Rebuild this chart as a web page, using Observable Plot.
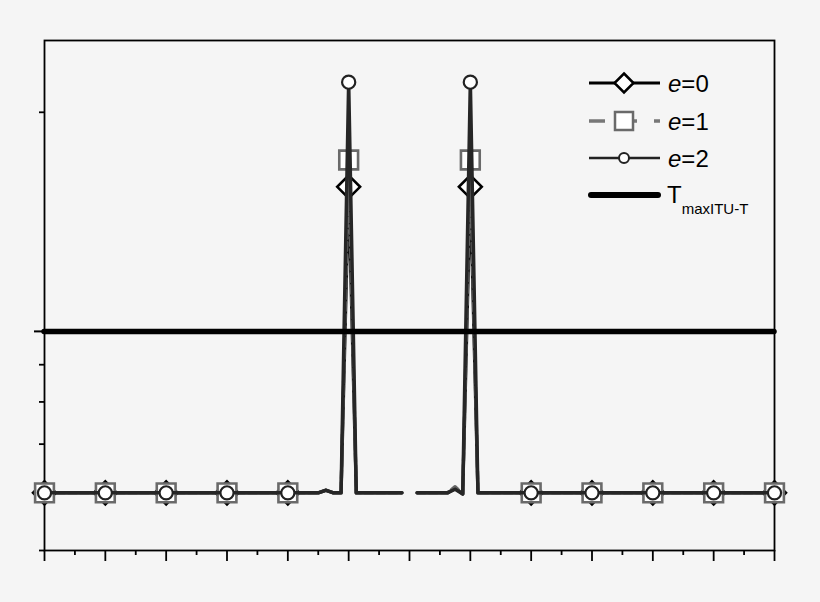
<!DOCTYPE html>
<html>
<head>
<meta charset="utf-8">
<script src="https://cdn.jsdelivr.net/npm/d3@7"></script>
<script src="https://cdn.jsdelivr.net/npm/@observablehq/plot@0.6"></script>
<style>
  html, body { margin: 0; padding: 0; background: #f5f5f5; }
  #wrap { position: relative; width: 820px; height: 602px; }
  #legend { position: absolute; left: 0; top: 0; pointer-events: none; }
  text { font-family: "Liberation Sans", Arial, sans-serif; }
</style>
</head>
<body>
<div id="wrap"></div>
<script>
// x positions (sample index) and series values (log y)
const xs = [0, 1, 2, 3, 4, 4.5, 4.625, 4.75, 4.875, 5, 5.125, 5.875, 6, 6.125, 6.625, 6.75, 6.875, 7, 7.125, 7.75, 8, 9, 10, 11, 12];
const e0 = [6, 6, 6, 6, 6, 6, 6.05, 6, 6, 15.8, 6, 6, null, 6, 6, 6.09, 5.98, 15.8, 6, 6, 6, 6, 6, 6, 6];
const e1 = [6, 6, 6, 6, 6, 6, 6.05, 6, 6, 17.2, 6, 6, null, 6, 6, 6.12, 5.98, 17.2, 6, 6, 6, 6, 6, 6, 6];
const e2 = [6, 6, 6, 6, 6, 6, 6.05, 6, 6, 22.0, 6, 6, null, 6, 6, 6.07, 5.98, 22.0, 6, 6, 6, 6, 6, 6, 6];
const threshold = [10];
const yMinorTicks = [5, 6, 7, 8, 9, 20];
const yMajorTicks = [10];
const xMajorTicks = [0, 1, 2, 3, 4, 5, 6, 7, 8, 9, 10, 11, 12];
const xMinorTicks = [0.5, 1.5, 2.5, 3.5, 4.5, 5.5, 6.5, 7.5, 8.5, 9.5, 10.5, 11.5];
const legendLabels = ["e=0", "e=1", "e=2", "TmaxITU-T"];

const rows = (vals) => xs.map((x, i) => ({x, y: vals[i]}));
const d0 = rows(e0), d1 = rows(e1), d2 = rows(e2);
const isMarker = d => Number.isInteger(d.x) && d.y != null;

const noText = () => "";

const chart = Plot.plot({
  width: 820,
  height: 602,
  marginLeft: 44,
  marginRight: 46,
  marginTop: 40,
  marginBottom: 52,
  style: {background: "#f5f5f5"},
  x: {domain: [0, 12]},
  y: {type: "log", domain: [5, 25.1]},
  marks: [
    Plot.frame({stroke: "#000", strokeWidth: 1.8}),
    Plot.axisX(xMajorTicks, {tickSize: 11, tickFormat: noText, label: null, strokeWidth: 1.8, stroke: "#000"}),
    Plot.axisX(xMinorTicks, {tickSize: 5, tickFormat: noText, label: null, strokeWidth: 1.8, stroke: "#000"}),
    Plot.axisY(yMinorTicks, {tickSize: 5, tickFormat: noText, label: null, strokeWidth: 1.8, stroke: "#000"}),
    Plot.axisY(yMajorTicks, {tickSize: 10, tickFormat: noText, label: null, strokeWidth: 2, stroke: "#000"}),
    Plot.line(d0, {x: "x", y: "y", stroke: "#111", strokeWidth: 3.3}),
    Plot.dot(d0.filter(isMarker), {x: "x", y: "y", symbol: "diamond2", r: 10.3, stroke: "#000", strokeWidth: 2.6, fill: "#fff"}),
    Plot.line(d1, {x: "x", y: "y", stroke: "#666", strokeWidth: 3.3, strokeDasharray: "8,4"}),
    Plot.dot(d1.filter(isMarker), {x: "x", y: "y", symbol: "square", r: 10.6, stroke: "#6a6a6a", strokeWidth: 2.6, fill: "#fff"}),
    Plot.line(d2, {x: "x", y: "y", stroke: "#262626", strokeWidth: 3.5}),
    Plot.ruleY(threshold, {stroke: "#000", strokeWidth: 5.5, strokeLinecap: "round"}),
    Plot.dot(d2.filter(isMarker), {x: "x", y: "y", symbol: "circle", r: 6.6, stroke: "#222", strokeWidth: 2.2, fill: "#fff"})
  ]
});

const wrap = document.getElementById("wrap");
wrap.appendChild(chart);

// legend overlay
const ns = "http://www.w3.org/2000/svg";
const leg = document.createElementNS(ns, "svg");
leg.setAttribute("id", "legend");
leg.setAttribute("width", 820);
leg.setAttribute("height", 602);
const el = (tag, attrs, parent = leg) => {
  const n = document.createElementNS(ns, tag);
  for (const k in attrs) n.setAttribute(k, attrs[k]);
  parent.appendChild(n);
  return n;
};
const rowsY = [83, 121, 158, 195];
const lx1 = 589, lx2 = 660, mx = 624, tx = 668;
// e=0
el("line", {x1: lx1, x2: lx2, y1: rowsY[0], y2: rowsY[0], stroke: "#000", "stroke-width": 3});
el("path", {d: `M${mx},${rowsY[0]-9.5}L${mx+9.5},${rowsY[0]}L${mx},${rowsY[0]+9.5}L${mx-9.5},${rowsY[0]}Z`, fill: "#fff", stroke: "#000", "stroke-width": 2.5});
// e=1
el("line", {x1: lx1, x2: lx2, y1: rowsY[1], y2: rowsY[1], stroke: "#777", "stroke-width": 3.5, "stroke-dasharray": "16 9 23 17 6"});
el("rect", {x: mx - 9, y: rowsY[1] - 9, width: 18, height: 18, fill: "#fff", stroke: "#6a6a6a", "stroke-width": 2.5});
// e=2
el("line", {x1: lx1, x2: lx2, y1: rowsY[2], y2: rowsY[2], stroke: "#222", "stroke-width": 2.5});
el("circle", {cx: mx, cy: rowsY[2], r: 5, fill: "#fff", stroke: "#222", "stroke-width": 2});
// threshold
el("line", {x1: lx1 + 2, x2: lx2 - 2, y1: rowsY[3], y2: rowsY[3], stroke: "#000", "stroke-width": 6, "stroke-linecap": "round"});

for (let i = 0; i < 3; i++) {
  const t = el("text", {x: tx, y: rowsY[i] + 9, "font-size": 24, fill: "#000"});
  const lab = legendLabels[i];
  const a = el("tspan", {"font-style": "italic"}, t); a.textContent = lab[0];
  const b = el("tspan", {}, t); b.textContent = lab.slice(1);
}
const tt = el("text", {x: 667, y: rowsY[3] + 8, "font-size": 24, fill: "#000"});
const t1 = el("tspan", {}, tt); t1.textContent = legendLabels[3][0];
const t2 = el("tspan", {"font-size": 15, dy: 11}, tt); t2.textContent = legendLabels[3].slice(1);
wrap.appendChild(leg);
</script>
</body>
</html>
